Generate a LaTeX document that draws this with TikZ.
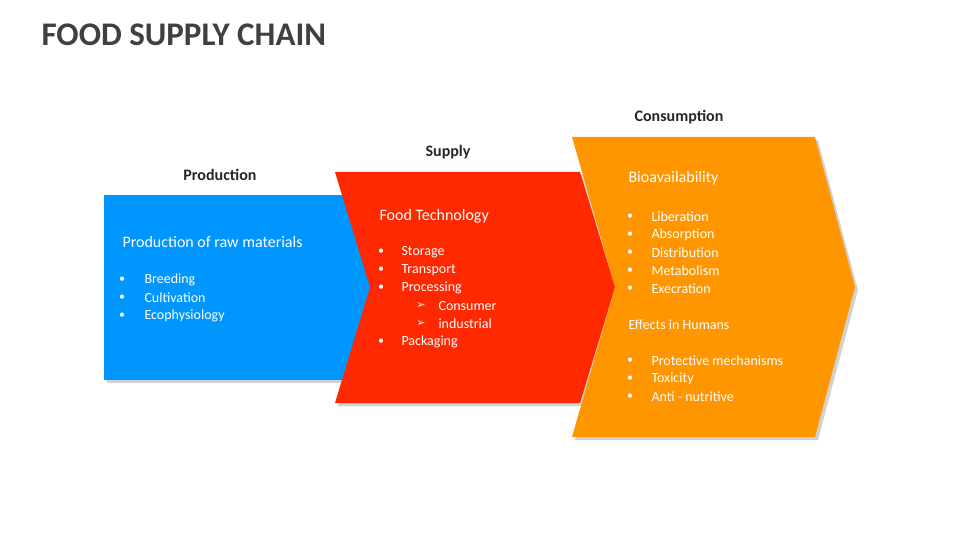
\documentclass[tikz,border=0pt]{standalone}
\usepackage{fontspec}
\setmainfont{Carlito}
\newfontfamily\dejavu{DejaVu Sans}
\definecolor{cblue}{RGB}{0,150,255}
\definecolor{cred}{RGB}{255,40,0}
\definecolor{corange}{RGB}{255,150,0}
\definecolor{ctitle}{RGB}{64,64,64}
\definecolor{clabel}{RGB}{38,38,38}
\begin{document}
\begin{tikzpicture}[x=1pt,y=-1pt,
  head/.style={anchor=west,text=white,font=\fontsize{16}{19}\selectfont},
  itm/.style={anchor=west,text=white,font=\fontsize{14}{17}\selectfont},
  bul/.style={anchor=center,text=white,font=\fontsize{12}{14}\selectfont},
  lbl/.style={anchor=center,text=clabel,font=\bfseries\fontsize{16}{19}\selectfont},
  shad/.style={fill=black,opacity=0.18}]
\useasboundingbox (0,0) rectangle (960,540);
\node[anchor=west,text=ctitle,font=\bfseries\fontsize{33}{38}\selectfont] (title) at (38,35) {FOOD SUPPLY CHAIN};
% shapes
\fill[shad] (107,198) rectangle (373,383);
\fill[cblue] (104,195) rectangle (372,380);
\fill[shad] (338,175) -- (583,175) -- (618,290) -- (583,406) -- (338,406) -- (373,290) -- cycle;
\fill[cred] (335,172) -- (580,172) -- (615,287) -- (580,403) -- (335,403) -- (370,287) -- cycle;
\fill[shad] (575,140) -- (818,140) -- (858,290) -- (818,440) -- (575,440) -- (618,290) -- cycle;
\fill[corange] (572,137) -- (815,137) -- (855,287) -- (815,437) -- (572,437) -- (615,287) -- cycle;
% labels
\node[lbl] (l1) at (220,175) {Production};
\node[lbl] (l2) at (448,152) {Supply};
\node[lbl] (l3) at (679,117) {Consumption};
% blue
\node[head] (bh) at (119,242) {Production of raw materials};
\foreach \t/\y in {Breeding/280,Cultivation/298,Ecophysiology/316}{
  \node[bul] at (122,\y) {•}; \node[itm] at (141,\y) {\t};}
% red
\node[head] (rh) at (376,216) {Food Technology};
\foreach \t/\y in {Storage/252,Transport/270,Processing/288,Packaging/342}{
  \node[bul] at (381,\y) {•}; \node[itm] at (398,\y) {\t};}
\foreach \t/\y in {Consumer/306,industrial/324}{
  \node[bul,font=\dejavu\fontsize{11}{13}\selectfont] at (421,\y) {➢}; \node[itm] at (435,\y) {\t};}
% orange
\node[head] (oh) at (625,178) {Bioavailability};
\foreach \t/\y in {Liberation/217,Absorption/235,Distribution/253,Metabolism/271,Execration/289,Protective mechanisms/361,Toxicity/379,Anti - nutritive/397}{
  \node[bul] at (630,\y) {•}; \node[itm] at (648,\y) {\t};}
\node[itm] (oe) at (625,325) {Effects in Humans};
\end{tikzpicture}
\end{document}
